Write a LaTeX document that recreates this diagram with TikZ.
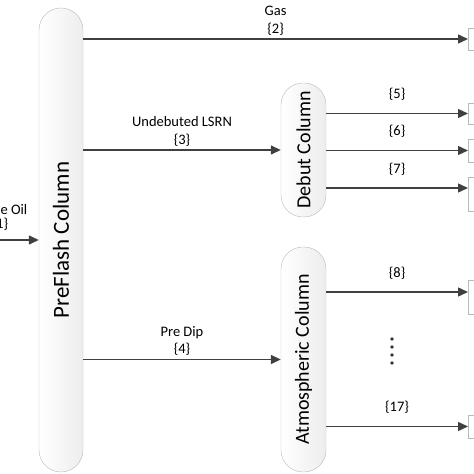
\documentclass[tikz,border=0pt]{standalone}
\usepackage{fontspec}
\setmainfont{Carlito}
\usetikzlibrary{arrows.meta, positioning, calc}

\begin{document}
\begin{tikzpicture}[x=1pt, y=1pt,
    column/.style={draw=gray!55, rounded corners=22pt, left color=white, right color=gray!14, inner sep=0pt},
    outbox/.style={draw=gray!55, fill=white, minimum width=30pt, inner sep=0pt, anchor=west},
    flow/.style={draw=black!75, line width=1.4pt, -{Triangle[length=10pt, width=9pt]}},
    stream/.style={font=\fontsize{14.5}{17.5}\selectfont, align=center, inner sep=0pt}]
    \useasboundingbox (0,0) rectangle (474,474);

    % Columns
    \node[column, minimum width=44pt, minimum height=464pt, font=\fontsize{23}{23}\selectfont] (preflash) at (61,234) {\rotatebox{90}{PreFlash Column}};
    \node[column, minimum width=45pt, minimum height=134pt, font=\fontsize{20}{20}\selectfont] (debut) at (303.5,324) {\rotatebox{90}{Debut Column}};
    \node[column, minimum width=45pt, minimum height=225pt, font=\fontsize{20}{20}\selectfont] (atm) at (303.5,114.5) {\rotatebox{90}{Atmospheric Column}};

    % Product tanks
    \node[outbox, minimum height=22pt] (gasout) at (468,435) {};
    \node[outbox, minimum height=21pt] (out5) at (468,360.5) {};
    \node[outbox, minimum height=23pt] (out6) at (468,323.5) {};
    \node[outbox, minimum height=34pt] (out7) at (468,280) {};
    \node[outbox, minimum height=34pt] (out8) at (468,177) {};
    \node[outbox, minimum height=23pt] (out17) at (468,47.5) {};
    \coordinate (in7) at ([yshift=6pt]out7.west);
    \coordinate (in8) at ([yshift=5pt]out8.west);
    \coordinate (crude) at (-39,234);

    % Feed and PreFlash streams
    \draw[flow] (crude) -- node[stream, font=\fontsize{14.5}{13.5}\selectfont, above=9pt] (crudelbl) {Crude Oil\\\{1\}} (preflash.west);
    \draw[flow] (preflash.east |- gasout.west) -- node[stream, above=3pt] (gaslbl) {Gas\\\{2\}} (gasout.west);
    \draw[flow] (preflash.east |- debut.west) -- node[stream, above=3pt] (lsrnlbl) {Undebuted LSRN\\\{3\}} (debut.west);
    \draw[flow] (preflash.east |- atm.west) -- node[stream, above=3pt] (diplbl) {Pre Dip\\\{4\}} (atm.west);

    % Debut products
    \draw[flow] (debut.east |- out5.west) -- node[stream, above=12pt] (lbl5) {\{5\}} (out5.west);
    \draw[flow] (debut.east |- out6.west) -- node[stream, above=12pt] (lbl6) {\{6\}} (out6.west);
    \draw[flow] (debut.east |- in7) -- node[stream, above=12pt] (lbl7) {\{7\}} (in7);

    % Atmospheric products
    \draw[flow] (atm.east |- in8) -- node[stream, above=12pt] (lbl8) {\{8\}} (in8);
    \draw[flow] (atm.east |- out17.west) -- node[stream, above=12pt] (lbl17) {\{17\}} (out17.west);
    \foreach \k in {0,...,3}
        \fill[black!80] (392,135-8*\k) circle (1.9pt);
\end{tikzpicture}
\end{document}
